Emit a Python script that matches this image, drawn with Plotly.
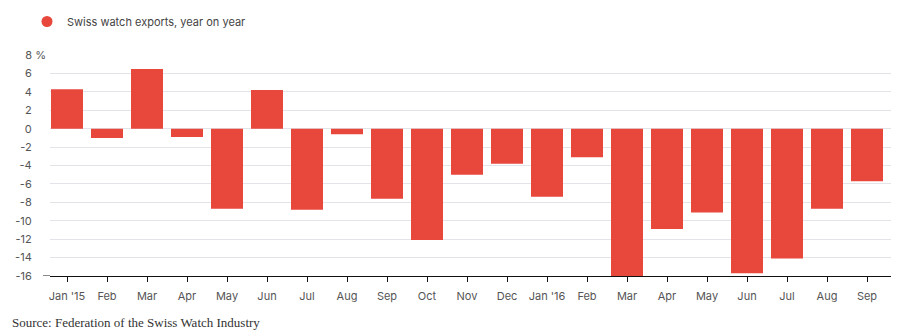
import plotly.graph_objects as go

months = ["Jan '15", "Feb", "Mar", "Apr", "May", "Jun", "Jul", "Aug", "Sep", "Oct",
          "Nov", "Dec", "Jan '16", "Feb", "Mar", "Apr", "May", "Jun", "Jul", "Aug", "Sep"]
values = [4.3, -1.0, 6.5, -0.9, -8.7, 4.2, -8.8, -0.6, -7.6, -12.1,
          -5.0, -3.8, -7.4, -3.1, -16.3, -10.9, -9.1, -15.7, -14.1, -8.7, -5.7]
ytick_vals = [8, 6, 4, 2, 0, -2, -4, -6, -8, -10, -12, -14, -16]
ytick_text = ["8 %"] + [str(v) + "\u2007\u2007" for v in ytick_vals[1:]]

RED = "#E8473C"
idx = list(range(len(months)))

fig = go.Figure()
fig.add_trace(go.Bar(
    x=idx, y=values, width=0.8,
    marker=dict(color=RED, line=dict(width=0)),
    showlegend=False, hoverinfo="skip",
))
fig.add_trace(go.Scatter(
    x=[None], y=[None], mode="markers",
    marker=dict(color=RED, size=11, symbol="circle"),
    name="Swiss watch exports, year on year",
))

fig.update_layout(
    width=907, height=335,
    margin=dict(l=50, r=16, t=54, b=59),
    paper_bgcolor="white", plot_bgcolor="white",
    font=dict(family="Inter, Liberation Sans, sans-serif", size=11, color="#555555"),
    bargap=0.2,
    legend=dict(
        orientation="h", x=27 / 907, y=1 - 7 / 335, xref="container", yref="container",
        xanchor="left", yanchor="top",
        font=dict(size=11, color="#444444"),
        itemwidth=30,
    ),
    xaxis=dict(
        range=[-0.425, 20.6],
        tickmode="array", tickvals=idx, ticktext=months,
        showgrid=False, zeroline=False,
        showline=True, linecolor="#111111", linewidth=1,
        ticks="outside", ticklen=5, tickcolor="#111111", tickwidth=1,
        tickfont=dict(size=11, color="#555555"),
        ticklabelstandoff=5,
    ),
    yaxis=dict(
        range=[-16, 8],
        tickmode="array", tickvals=ytick_vals, ticktext=ytick_text,
        showgrid=True, gridcolor="#E3E3EA", gridwidth=1,
        zeroline=False, showline=False, ticks="",
        tickfont=dict(size=11, color="#555555"),
        ticklabelstandoff=3,
    ),
    shapes=[dict(
        type="line", xref="paper", yref="y",
        x0=-7 / 841, x1=0, y0=-16, y1=-16,
        line=dict(color="#111111", width=1),
    )],
    annotations=[dict(
        text="Source: Federation of the Swiss Watch Industry",
        xref="paper", yref="paper",
        x=-40 / 841, y=-47 / 221.7,
        xanchor="left", yanchor="middle", showarrow=False,
        font=dict(family="Liberation Serif, DejaVu Serif, serif", size=13, color="#333333"),
    )],
)

fig.write_html("out.html")
